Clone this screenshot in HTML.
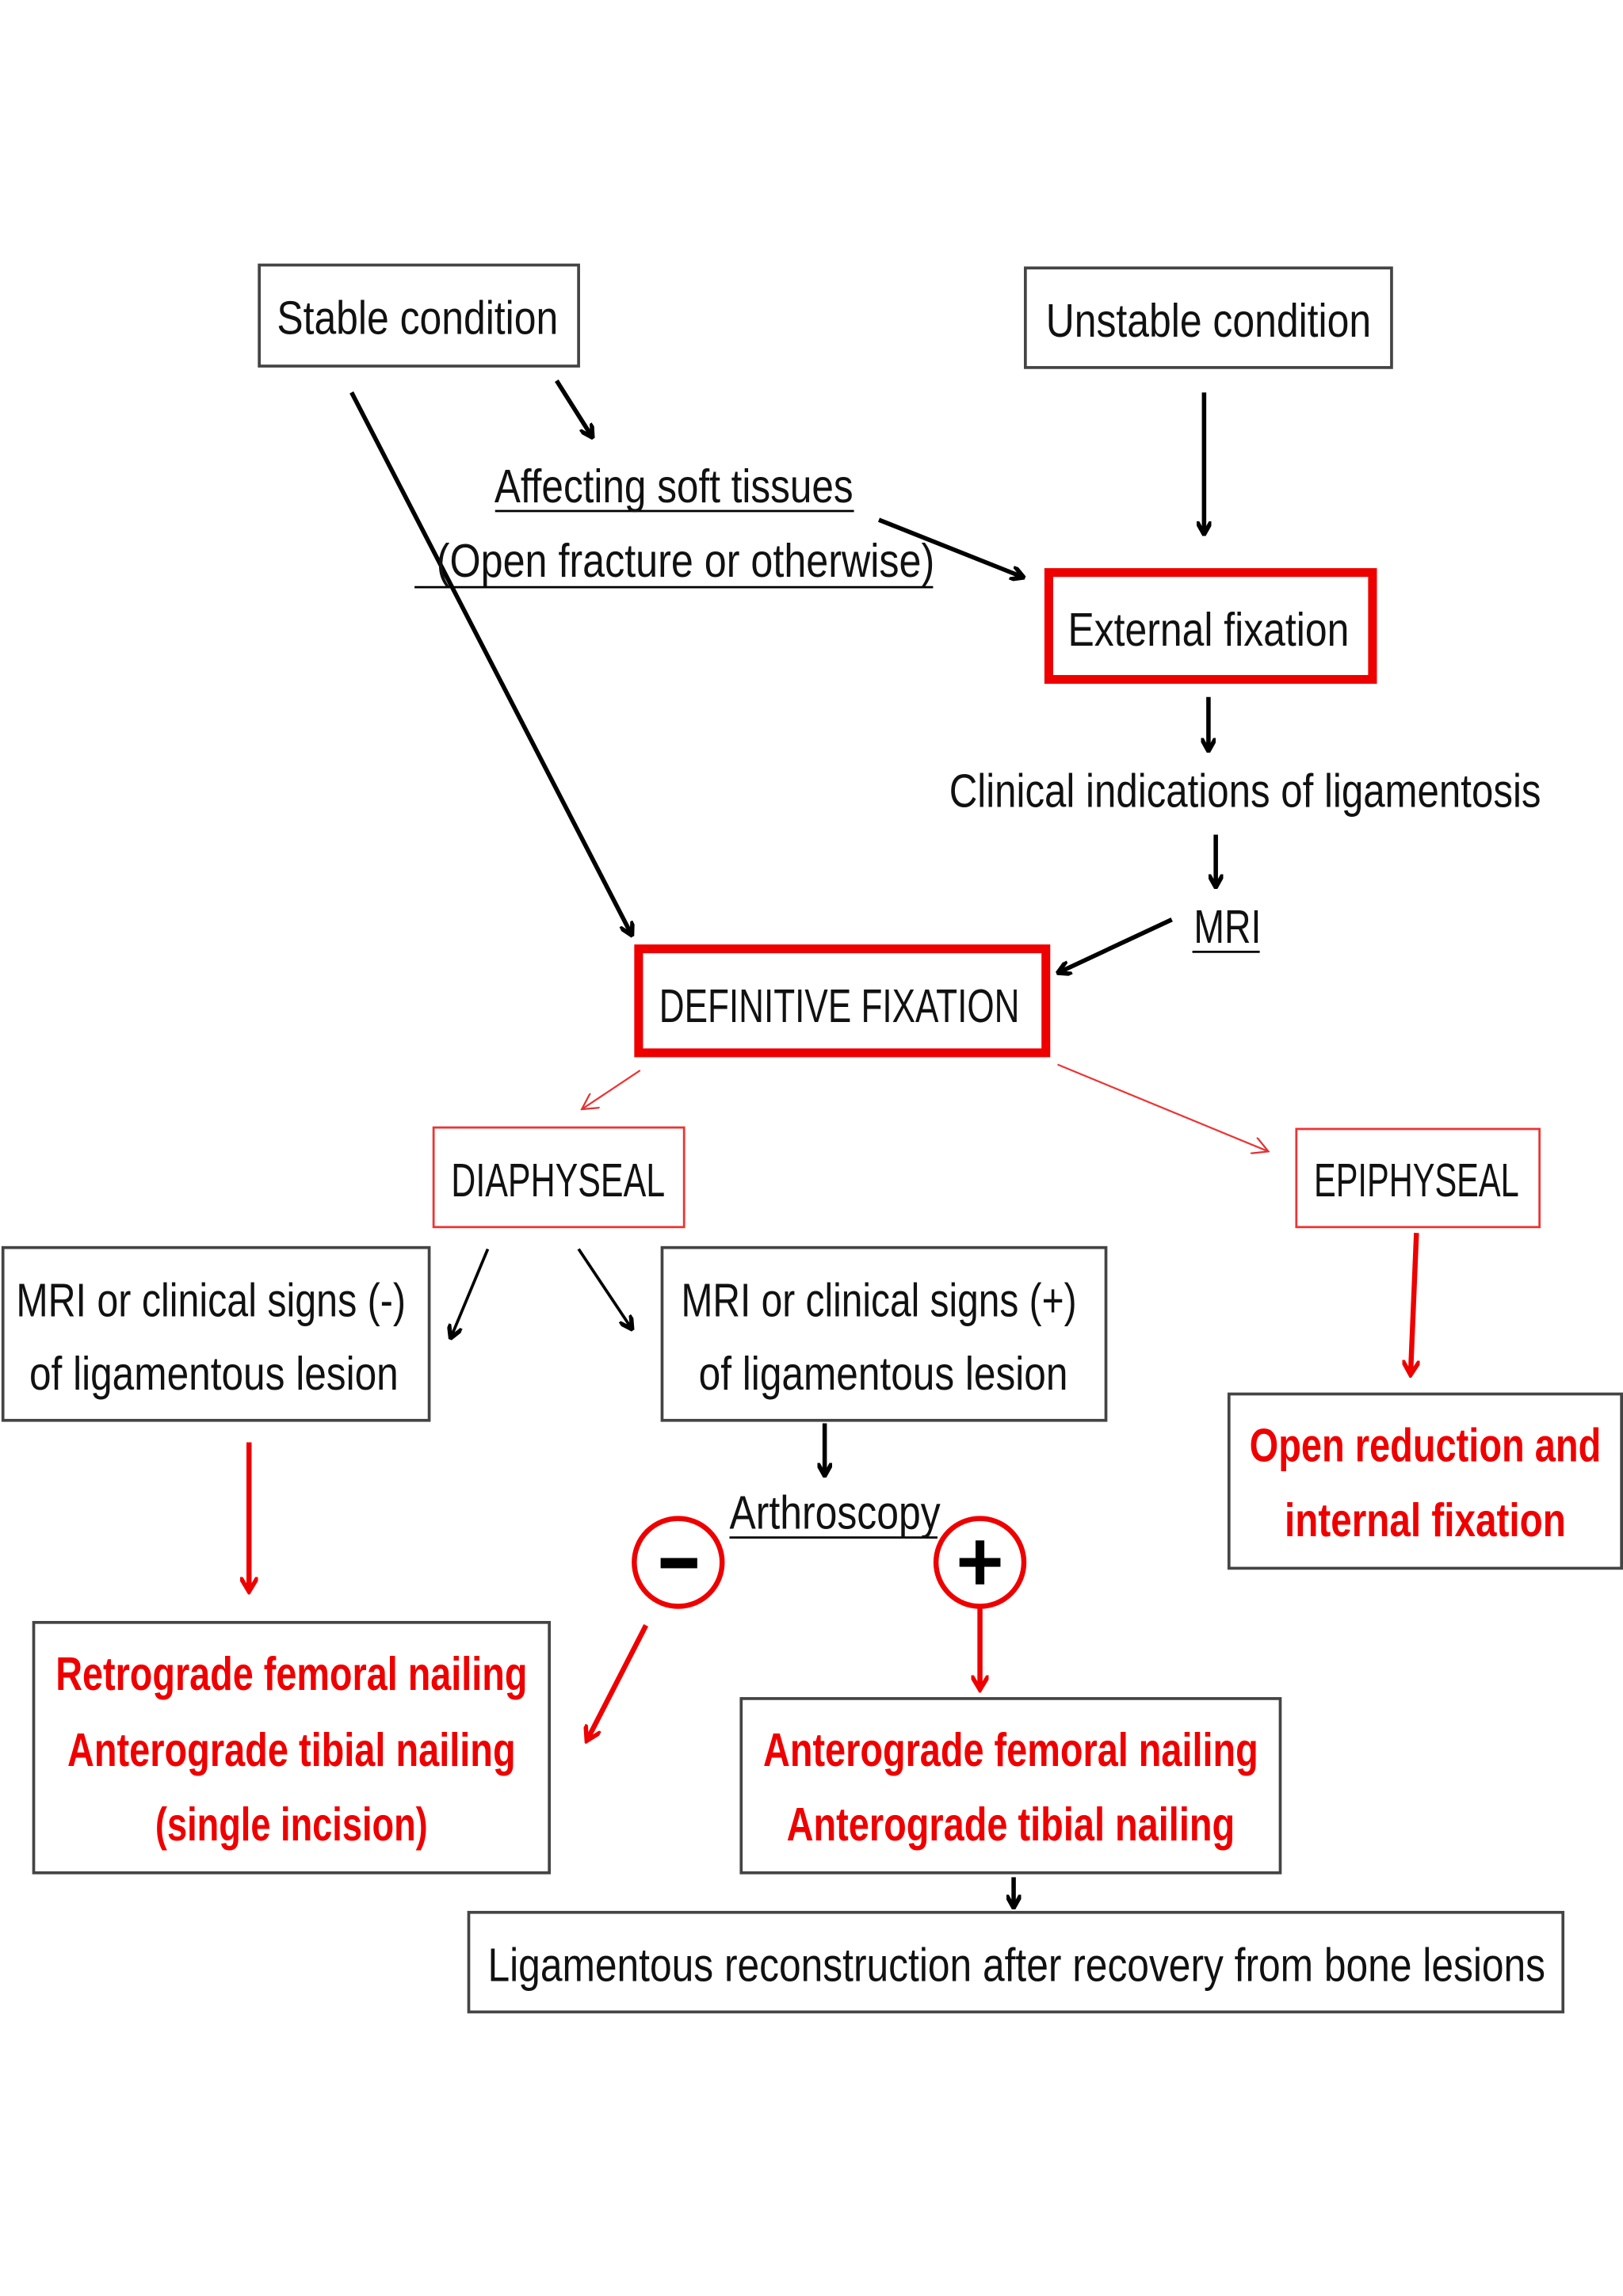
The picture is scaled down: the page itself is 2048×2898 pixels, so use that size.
<!DOCTYPE html>
<html><head><meta charset="utf-8"><style>
html,body{margin:0;padding:0;background:#fff;}
svg{display:block;}
text{font-family:"Liberation Sans Narrow","Liberation Sans",sans-serif;}
</style></head><body>
<svg width="2048" height="2898" viewBox="0 0 1108 1568" preserveAspectRatio="none" xmlns="http://www.w3.org/2000/svg">
<defs>
<marker id="ab" markerWidth="10" markerHeight="10" refX="8" refY="5" orient="auto" markerUnits="userSpaceOnUse"><path d="M0,0 L9,5 L0,10" fill="none" stroke="#000" stroke-width="3"/></marker>
<marker id="ar" markerWidth="12" markerHeight="12" refX="9" refY="6" orient="auto" markerUnits="userSpaceOnUse"><path d="M0,0 L10,6 L0,12" fill="none" stroke="#e00" stroke-width="3"/></marker>
<marker id="art" markerWidth="12" markerHeight="12" refX="10" refY="6" orient="auto" markerUnits="userSpaceOnUse"><path d="M0,0 L11,6 L0,12" fill="none" stroke="#d33" stroke-width="1.2"/></marker>
</defs>
<g fill="none" stroke="#444" stroke-width="2">
<rect x="177" y="181" width="218" height="69"/>
<rect x="700" y="183" width="250" height="68"/>
<rect x="2" y="852" width="291" height="118"/>
<rect x="452" y="852" width="303" height="118"/>
<rect x="23" y="1108" width="352" height="171"/>
<rect x="506" y="1160" width="368" height="119"/>
<rect x="839" y="952" width="268" height="119"/>
<rect x="320" y="1306" width="747" height="68"/>
</g>
<g fill="none" stroke="#e33" stroke-width="1.5">
<rect x="296" y="770" width="171" height="68"/>
<rect x="885" y="771" width="166" height="67"/>
</g>
<g fill="none" stroke="#e00" stroke-width="6">
<rect x="716" y="391" width="221" height="73"/>
<rect x="436" y="648" width="278" height="71"/>
</g>
<g stroke="#000" stroke-width="3" fill="none">
<line x1="380" y1="260" x2="404" y2="298" marker-end="url(#ab)"/>
<line x1="600" y1="355" x2="698" y2="394" marker-end="url(#ab)"/>
<line x1="822" y1="268" x2="822" y2="364" marker-end="url(#ab)"/>
<line x1="825" y1="476" x2="825" y2="512" marker-end="url(#ab)"/>
<line x1="830" y1="570" x2="830" y2="605" marker-end="url(#ab)"/>
<line x1="800" y1="628" x2="723" y2="664" marker-end="url(#ab)"/>
<line x1="240" y1="268" x2="431" y2="638" marker-end="url(#ab)"/>
<line x1="333" y1="853" x2="308" y2="913" stroke-width="2" marker-end="url(#ab)"/>
<line x1="395" y1="853" x2="431" y2="907" stroke-width="2" marker-end="url(#ab)"/>
<line x1="563" y1="972" x2="563" y2="1007" marker-end="url(#ab)"/>
<line x1="692" y1="1282" x2="692" y2="1302" marker-end="url(#ab)"/>
<line x1="283" y1="401" x2="637" y2="401" stroke-width="1.5"/>
<line x1="338" y1="349" x2="583" y2="349" stroke-width="1.5"/>
<line x1="814" y1="650" x2="860" y2="650" stroke-width="1.5"/>
<line x1="498" y1="1050" x2="640" y2="1050" stroke-width="1.5"/>
</g>
<g stroke="#e33" stroke-width="1.2" fill="none">
<line x1="437" y1="731" x2="398" y2="757" marker-end="url(#art)"/>
<line x1="722" y1="727" x2="865" y2="786" marker-end="url(#art)"/>
</g>
<g stroke="#e00" stroke-width="3.5" fill="none">
<line x1="170" y1="985" x2="170" y2="1086" marker-end="url(#ar)"/>
<line x1="967" y1="842" x2="963" y2="938" marker-end="url(#ar)"/>
<line x1="441" y1="1110" x2="401" y2="1188" marker-end="url(#ar)"/>
<line x1="669" y1="1097" x2="669" y2="1153" marker-end="url(#ar)"/>
<circle cx="463" cy="1067" r="30" fill="#fff"/>
<circle cx="669" cy="1067" r="30" fill="#fff"/>
</g>
<rect x="451" y="1064" width="25" height="7" fill="#000"/>
<rect x="655" y="1064" width="28" height="6" fill="#000"/>
<rect x="666" y="1052" width="6" height="30" fill="#000"/>
<g font-size="32" fill="#111" text-anchor="middle">
<text x="285" y="228" textLength="192" lengthAdjust="spacingAndGlyphs">Stable condition</text>
<text x="825" y="230" textLength="222" lengthAdjust="spacingAndGlyphs">Unstable condition</text>
<text x="460" y="343" textLength="245" lengthAdjust="spacingAndGlyphs">Affecting soft tissues</text>
<text x="468" y="394" textLength="340" lengthAdjust="spacingAndGlyphs">(Open fracture or otherwise)</text>
<text x="825" y="441" textLength="192" lengthAdjust="spacingAndGlyphs">External fixation</text>
<text x="850" y="551" textLength="404" lengthAdjust="spacingAndGlyphs">Clinical indications of ligamentosis</text>
<text x="838" y="644" textLength="46" lengthAdjust="spacingAndGlyphs">MRI</text>
<text x="573" y="698" textLength="246" lengthAdjust="spacingAndGlyphs">DEFINITIVE FIXATION</text>
<text x="381" y="817" textLength="146" lengthAdjust="spacingAndGlyphs">DIAPHYSEAL</text>
<text x="967" y="817" textLength="140" lengthAdjust="spacingAndGlyphs">EPIPHYSEAL</text>
<text x="144" y="899" textLength="266" lengthAdjust="spacingAndGlyphs">MRI or clinical signs (-)</text>
<text x="146" y="949" textLength="252" lengthAdjust="spacingAndGlyphs">of ligamentous lesion</text>
<text x="600" y="899" textLength="270" lengthAdjust="spacingAndGlyphs">MRI or clinical signs (+)</text>
<text x="603" y="949" textLength="252" lengthAdjust="spacingAndGlyphs">of ligamentous lesion</text>
<text x="570" y="1044" textLength="144" lengthAdjust="spacingAndGlyphs">Arthroscopy</text>
<text x="694" y="1353" textLength="722" lengthAdjust="spacingAndGlyphs">Ligamentous reconstruction after recovery from bone lesions</text>
</g>
<g font-size="32" font-weight="bold" fill="#e00" text-anchor="middle">
<text x="199" y="1154" textLength="322" lengthAdjust="spacingAndGlyphs">Retrograde femoral nailing</text>
<text x="199" y="1206" textLength="306" lengthAdjust="spacingAndGlyphs">Anterograde tibial nailing</text>
<text x="199" y="1257" textLength="186" lengthAdjust="spacingAndGlyphs">(single incision)</text>
<text x="690" y="1206" textLength="338" lengthAdjust="spacingAndGlyphs">Anterograde femoral nailing</text>
<text x="690" y="1257" textLength="306" lengthAdjust="spacingAndGlyphs">Anterograde tibial nailing</text>
<text x="973" y="998" textLength="240" lengthAdjust="spacingAndGlyphs">Open reduction and</text>
<text x="973" y="1049" textLength="192" lengthAdjust="spacingAndGlyphs">internal fixation</text>
</g>
</svg>
</body></html>
